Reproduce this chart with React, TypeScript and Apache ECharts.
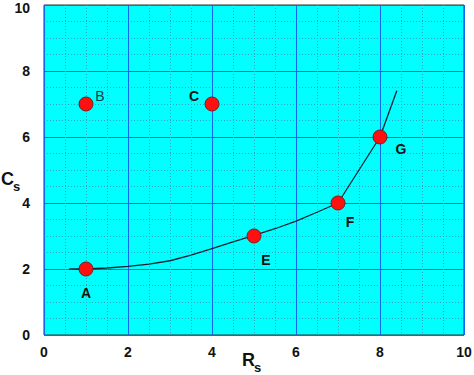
import React, { useEffect, useRef } from "react";
import * as echarts from "echarts";

const pointNames = ["A", "B", "C", "E", "F", "G"];
const pointX = [1, 1, 4, 5, 7, 8];
const pointY = [2, 7, 7, 3, 4, 6];
const curveX = [0.6, 1, 1.5, 2, 2.5, 3, 3.5, 4, 4.5, 5, 5.5, 6, 6.5, 7, 7.5, 8, 8.4];
const curveY = [2.0, 2.0, 2.03, 2.08, 2.15, 2.25, 2.42, 2.62, 2.82, 3.02, 3.22, 3.45, 3.72, 4.0, 5.0, 6.0, 7.4];
const xTicks = [0, 2, 4, 6, 8, 10];
const yTicks = [0, 2, 4, 6, 8, 10];
const xTitle = ["R", "s"];
const yTitle = ["C", "s"];

const labelOffsets: Record<string, [number, number]> = {
  A: [0, 24],
  B: [14, -8],
  C: [-18, -8],
  E: [12, 24],
  F: [12, 19],
  G: [21, 12],
};

export default function App() {
  const ref = useRef<HTMLDivElement>(null);
  useEffect(() => {
    if (!ref.current) return;
    const chart = echarts.init(ref.current, null, { renderer: "svg" });
    const font = "'Liberation Sans', Arial, Helvetica, sans-serif";
    const big = { fontFamily: font, fontWeight: "bold", fontSize: 18, fill: "#111" };
    const small = { fontFamily: font, fontWeight: "bold", fontSize: 13, fill: "#111" };
    const tickText = { fontFamily: font, fontWeight: "bold", fontSize: 14, color: "#111" };
    chart.setOption({
      animation: false,
      grid: {
        left: 44,
        right: 10,
        top: 5,
        bottom: 40,
        containLabel: false,
        outerBoundsMode: "none",
        show: true,
        backgroundColor: "#00ffff",
        borderColor: "#333333",
        borderWidth: 1,
      },
      graphic: [
        { type: "text", left: 242, top: 351, style: { ...big, text: xTitle[0] } },
        { type: "text", left: 254, top: 361, style: { ...small, text: xTitle[1] } },
        { type: "text", left: 1, top: 170, style: { ...big, text: yTitle[0] } },
        { type: "text", left: 13, top: 180, style: { ...small, text: yTitle[1] } },
      ],
      xAxis: {
        type: "value",
        min: xTicks[0],
        max: xTicks[xTicks.length - 1],
        interval: 2,
        axisLine: { show: false },
        axisTick: { show: false },
        axisLabel: { ...tickText, margin: 10 },
        splitLine: { show: true, lineStyle: { color: "#1468f0", width: 1 } },
        minorTick: { show: false, splitNumber: 4 },
        minorSplitLine: { show: true, lineStyle: { color: "#22a8c0", type: [1, 2], width: 1 } },
      },
      yAxis: {
        type: "value",
        min: yTicks[0],
        max: yTicks[yTicks.length - 1],
        interval: 2,
        axisLine: { show: false },
        axisTick: { show: false },
        axisLabel: {
          ...tickText,
          margin: 14,
          formatter: (v: number) => (v === yTicks[yTicks.length - 1] ? "{t|" + v + "}" : String(v)),
          rich: { t: { ...tickText, padding: [5, 0, 0, 0] } },
        },
        splitLine: { show: true, lineStyle: { color: "#1468f0", width: 1 } },
        minorTick: { show: false, splitNumber: 4 },
        minorSplitLine: { show: true, lineStyle: { color: "#22a8c0", type: [1, 2], width: 1 } },
      },
      series: [
        {
          type: "line",
          data: curveX.map((x, i) => [x, curveY[i]]),
          showSymbol: false,
          smooth: false,
          lineStyle: { color: "#112233", width: 1.3 },
          z: 2,
        },
        {
          type: "scatter",
          symbolSize: 14,
          itemStyle: { color: "#ff1010", borderColor: "#661111", borderWidth: 0.8, opacity: 1 },
          data: pointNames.map((n, i) => ({
            name: n,
            value: [pointX[i], pointY[i]],
            label: {
              show: true,
              formatter: n,
              position: "inside",
              offset: labelOffsets[n],
              fontFamily: font,
              fontWeight: n === "B" ? "normal" : "bold",
              fontSize: 14,
              color: n === "B" ? "#0a3a4a" : "#111",
            },
          })),
          z: 3,
        },
      ],
    });
    return () => chart.dispose();
  }, []);
  return <div ref={ref} style={{ position: "absolute", left: 0, top: 0, width: 474, height: 375 }} />;
}
